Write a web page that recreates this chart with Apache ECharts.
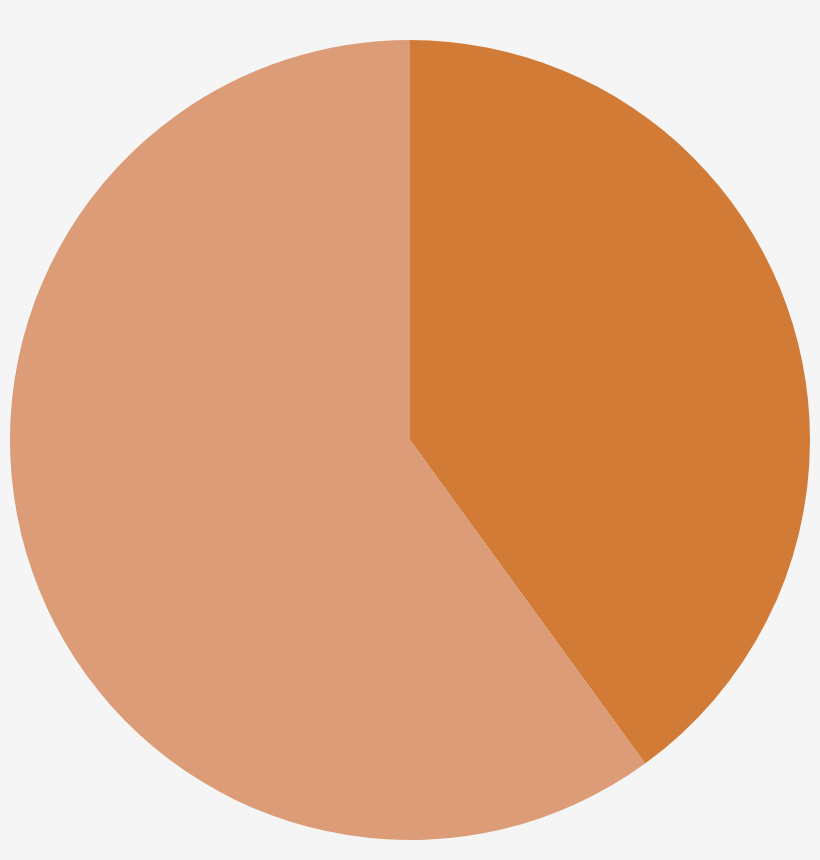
<!DOCTYPE html>
<html>
<head>
<meta charset="utf-8">
<script src="https://cdn.jsdelivr.net/npm/echarts@6/dist/echarts.min.js"></script>
<style>
html,body{margin:0;padding:0;background:#f5f5f5;}
#chart{width:820px;height:860px;}
</style>
</head>
<body>
<div id="chart"></div>
<script>
const categories = ['A', 'B'];
const values = [40, 60];
const colors = ['#d27b37', '#db9c77'];

const chart = echarts.init(document.getElementById('chart'));
chart.setOption({
  backgroundColor: '#f5f5f5',
  animation: false,
  series: [{
    type: 'pie',
    center: [410, 440],
    radius: [0, 400],
    startAngle: 90,
    clockwise: true,
    label: { show: false },
    labelLine: { show: false },
    itemStyle: { borderWidth: 0 },
    emphasis: { disabled: true },
    data: categories.map((c, i) => ({ name: c, value: values[i], itemStyle: { color: colors[i] } }))
  }]
});
</script>
</body>
</html>
